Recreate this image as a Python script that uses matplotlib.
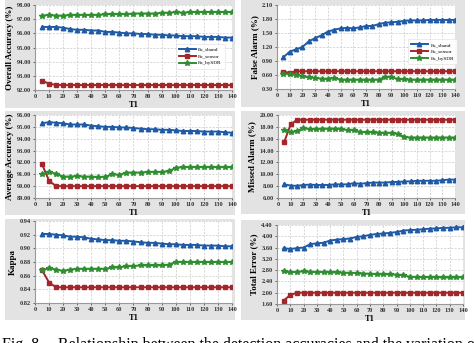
import numpy as np
import matplotlib.pyplot as plt
from matplotlib.patches import Rectangle

t1 = list(range(5, 145, 5))
series_names = ["Fu_sband", "Fu_sensor", "Fu_bySDR"]

overall_blue = [96.45, 96.45, 96.45, 96.4, 96.3, 96.25, 96.25, 96.2, 96.2, 96.1,
                96.1, 96.05, 96.0, 96.0, 95.95, 95.95, 95.9, 95.9, 95.85, 95.85,
                95.8, 95.8, 95.8, 95.75, 95.75, 95.75, 95.7, 95.7]
overall_red = [92.65, 92.45, 92.35, 92.35, 92.35, 92.35, 92.35, 92.35, 92.35, 92.35,
               92.35, 92.35, 92.35, 92.35, 92.35, 92.35, 92.35, 92.35, 92.35, 92.35,
               92.35, 92.35, 92.35, 92.35, 92.35, 92.35, 92.35, 92.35]
overall_green = [97.25, 97.3, 97.25, 97.25, 97.3, 97.3, 97.3, 97.3, 97.3, 97.35,
                 97.35, 97.35, 97.35, 97.4, 97.4, 97.4, 97.4, 97.45, 97.45, 97.5,
                 97.45, 97.5, 97.5, 97.5, 97.5, 97.5, 97.5, 97.5]

false_blue = [0.98, 1.10, 1.15, 1.20, 1.32, 1.39, 1.45, 1.53, 1.57, 1.60,
              1.61, 1.60, 1.62, 1.65, 1.65, 1.69, 1.72, 1.73, 1.74, 1.76,
              1.77, 1.77, 1.77, 1.78, 1.78, 1.78, 1.78, 1.78]
false_red = [0.67, 0.65, 0.68, 0.68, 0.68, 0.68, 0.68, 0.68, 0.68, 0.68,
             0.68, 0.68, 0.68, 0.68, 0.68, 0.68, 0.68, 0.68, 0.68, 0.68,
             0.68, 0.68, 0.68, 0.68, 0.68, 0.68, 0.68, 0.68]
false_green = [0.63, 0.62, 0.61, 0.57, 0.55, 0.54, 0.52, 0.52, 0.54, 0.50,
               0.50, 0.50, 0.50, 0.50, 0.50, 0.50, 0.56, 0.56, 0.51, 0.51,
               0.50, 0.50, 0.50, 0.50, 0.50, 0.50, 0.50, 0.50]

avg_blue = [95.3, 95.4, 95.35, 95.3, 95.2, 95.2, 95.2, 95.1, 95.05, 95.0,
            95.0, 94.95, 94.95, 94.9, 94.85, 94.8, 94.8, 94.75, 94.75, 94.7,
            94.65, 94.65, 94.65, 94.6, 94.6, 94.6, 94.55, 94.5]
avg_red = [91.85, 90.45, 90.0, 90.0, 90.0, 90.0, 90.0, 90.0, 90.0, 90.0,
           90.0, 90.0, 90.0, 90.0, 90.0, 90.0, 90.0, 90.0, 90.0, 90.0,
           90.0, 90.0, 90.0, 90.0, 90.0, 90.0, 90.0, 90.0]
avg_green = [91.0, 91.2, 91.05, 90.8, 90.8, 90.85, 90.8, 90.8, 90.75, 90.8,
             91.0, 90.95, 91.15, 91.15, 91.15, 91.2, 91.2, 91.2, 91.25, 91.55,
             91.6, 91.6, 91.6, 91.6, 91.6, 91.6, 91.6, 91.6]

missed_blue = [8.3, 8.1, 8.05, 8.2, 8.25, 8.2, 8.2, 8.2, 8.3, 8.3,
               8.3, 8.5, 8.4, 8.5, 8.6, 8.6, 8.6, 8.7, 8.7, 8.8,
               8.8, 8.9, 8.9, 8.9, 8.9, 9.0, 9.1, 9.1]
missed_red = [15.5, 18.4, 19.2, 19.2, 19.2, 19.2, 19.2, 19.2, 19.2, 19.2,
              19.2, 19.2, 19.2, 19.2, 19.2, 19.2, 19.2, 19.2, 19.2, 19.2,
              19.2, 19.2, 19.2, 19.2, 19.2, 19.2, 19.2, 19.2]
missed_green = [17.4, 17.1, 17.3, 17.8, 17.6, 17.6, 17.7, 17.7, 17.7, 17.7,
                17.4, 17.5, 17.1, 17.1, 17.1, 17.0, 17.0, 17.0, 16.8, 16.3,
                16.2, 16.2, 16.2, 16.2, 16.2, 16.2, 16.2, 16.2]

kappa_blue = [0.921, 0.921, 0.920, 0.919, 0.917, 0.917, 0.916, 0.914, 0.913, 0.912,
              0.912, 0.911, 0.911, 0.910, 0.909, 0.908, 0.908, 0.907, 0.906, 0.906,
              0.905, 0.905, 0.905, 0.904, 0.904, 0.904, 0.903, 0.903]
kappa_red = [0.868, 0.850, 0.843, 0.843, 0.843, 0.843, 0.843, 0.843, 0.843, 0.843,
             0.843, 0.843, 0.843, 0.843, 0.843, 0.843, 0.843, 0.843, 0.843, 0.843,
             0.843, 0.843, 0.843, 0.843, 0.843, 0.843, 0.843, 0.843]
kappa_green = [0.868, 0.871, 0.869, 0.867, 0.869, 0.870, 0.870, 0.870, 0.870, 0.870,
               0.872, 0.872, 0.874, 0.874, 0.875, 0.875, 0.875, 0.875, 0.876, 0.880,
               0.880, 0.880, 0.880, 0.880, 0.880, 0.880, 0.880, 0.880]

total_blue = [3.58, 3.55, 3.58, 3.60, 3.72, 3.75, 3.77, 3.85, 3.88, 3.90,
              3.92, 3.98, 4.00, 4.05, 4.08, 4.10, 4.12, 4.15, 4.20, 4.22,
              4.23, 4.25, 4.27, 4.28, 4.30, 4.30, 4.32, 4.32]
total_red = [1.72, 1.92, 2.0, 2.0, 2.0, 2.0, 2.0, 2.0, 2.0, 2.0,
             2.0, 2.0, 2.0, 2.0, 2.0, 2.0, 2.0, 2.0, 2.0, 2.0,
             2.0, 2.0, 2.0, 2.0, 2.0, 2.0, 2.0, 2.0]
total_green = [2.76, 2.72, 2.74, 2.76, 2.74, 2.73, 2.73, 2.72, 2.72, 2.71,
               2.70, 2.70, 2.68, 2.67, 2.66, 2.65, 2.65, 2.64, 2.62, 2.56,
               2.56, 2.55, 2.55, 2.55, 2.54, 2.54, 2.54, 2.55]

W, H = 474, 343
SERIF = "Liberation Serif"
colors = ["#1f5aa6", "#a3262a", "#2f8f30"]
markers = ["^", "s", "*"]
msizes = [3.2, 2.6, 3.8]


def px_box(x0, y0, x1, y1):
    # pixel box (top-left origin) -> figure fraction [l, b, w, h]
    return [x0 / W, (H - y1) / H, (x1 - x0) / W, (y1 - y0) / H]


fig = plt.figure(figsize=(W / 100, H / 100), dpi=100)

# grey backgrounds behind each chart
for x0, y0, x1, y1 in [(5, 0, 235, 108), (5, 111, 235, 215), (5, 219, 235, 320),
                       (241, 0, 465, 107), (241, 111, 465, 214), (241, 220, 465, 320)]:
    fig.patches.append(Rectangle((x0 / W, (H - y1) / H), (x1 - x0) / W, (y1 - y0) / H,
                                 transform=fig.transFigure, facecolor="#e3e3e3",
                                 edgecolor="none", zorder=-5))

panels = [
    (px_box(35, 5, 232, 90), [overall_blue, overall_red, overall_green],
     "Overall Accuracy (%)", np.arange(92, 98.01, 1.0), True, (0.70, 0.22)),
    (px_box(277, 5, 455, 89), [false_blue, false_red, false_green],
     "False Alarm (%)", np.arange(0.3, 2.11, 0.3), True, (0.72, 0.27)),
    (px_box(35, 115, 232, 198), [avg_blue, avg_red, avg_green],
     "Average Accuracy (%)", np.arange(89, 96.01, 1.0), False, None),
    (px_box(278, 115, 455, 198), [missed_blue, missed_red, missed_green],
     "Missed Alarm (%)", np.arange(6, 20.01, 2.0), False, None),
    (px_box(35, 221, 232, 303), [kappa_blue, kappa_red, kappa_green],
     "Kappa", np.arange(0.82, 0.9401, 0.02), False, None),
    (px_box(277, 225, 463, 304), [total_blue, total_red, total_green],
     "Total Error (%)", np.arange(1.6, 4.401, 0.4), False, None),
]

for box, data, ylabel, yticks, show_legend, leg_pos in panels:
    ax = fig.add_axes(box)
    ax.set_zorder(2)
    ax.set_facecolor("white")
    for vals, c, m, ms, name in zip(data, colors, markers, msizes, series_names):
        ax.plot(t1, vals, color=c, lw=1.4, marker=m, ms=ms, mec=c, mfc=c, label=name)
    ax.set_xlim(0, 140)
    ax.set_xticks(range(0, 141, 10))
    ax.set_ylim(yticks[0], yticks[-1])
    ax.set_yticks(yticks)
    ax.set_yticklabels(["%.2f" % v for v in yticks])
    ax.grid(True, color="#c8c8c8", ls=(0, (3, 2)), lw=0.5)
    ax.set_axisbelow(True)
    for s in ax.spines.values():
        s.set_visible(False)
    ax.spines["bottom"].set_visible(True)
    ax.spines["bottom"].set_color("#999999")
    ax.spines["left"].set_visible(True)
    ax.spines["left"].set_color("#999999")
    ax.tick_params(length=1.5, width=0.5, pad=1.5, colors="#333333")
    for lab in ax.get_xticklabels() + ax.get_yticklabels():
        lab.set_fontfamily(SERIF)
        lab.set_fontweight("bold")
        lab.set_fontsize(4.6)
    ax.set_xlabel("T1", fontfamily=SERIF, fontweight="bold", fontsize=6, labelpad=1)
    ax.set_ylabel(ylabel, fontfamily=SERIF, fontweight="bold", fontsize=6.5, labelpad=2)
    if show_legend:
        leg = ax.legend(loc="lower left", bbox_to_anchor=leg_pos,
                        prop={"family": SERIF, "size": 3.8}, frameon=True,
                        fancybox=False, borderpad=0.6, handlelength=3.2,
                        labelspacing=0.4, handletextpad=0.5)
        leg.get_frame().set_edgecolor("#dddddd")
        leg.get_frame().set_linewidth(0.5)

# figure caption, partly cut by the bottom edge
fig.text(2 / W, -6 / H, "Fig. 8.", fontfamily=SERIF, fontsize=11.5, va="baseline")
fig.text(58 / W, -6 / H, "Relationship between the detection accuracies and the variation of",
         fontfamily=SERIF, fontsize=11.5, va="baseline")

fig.savefig("out.png", dpi=100)
